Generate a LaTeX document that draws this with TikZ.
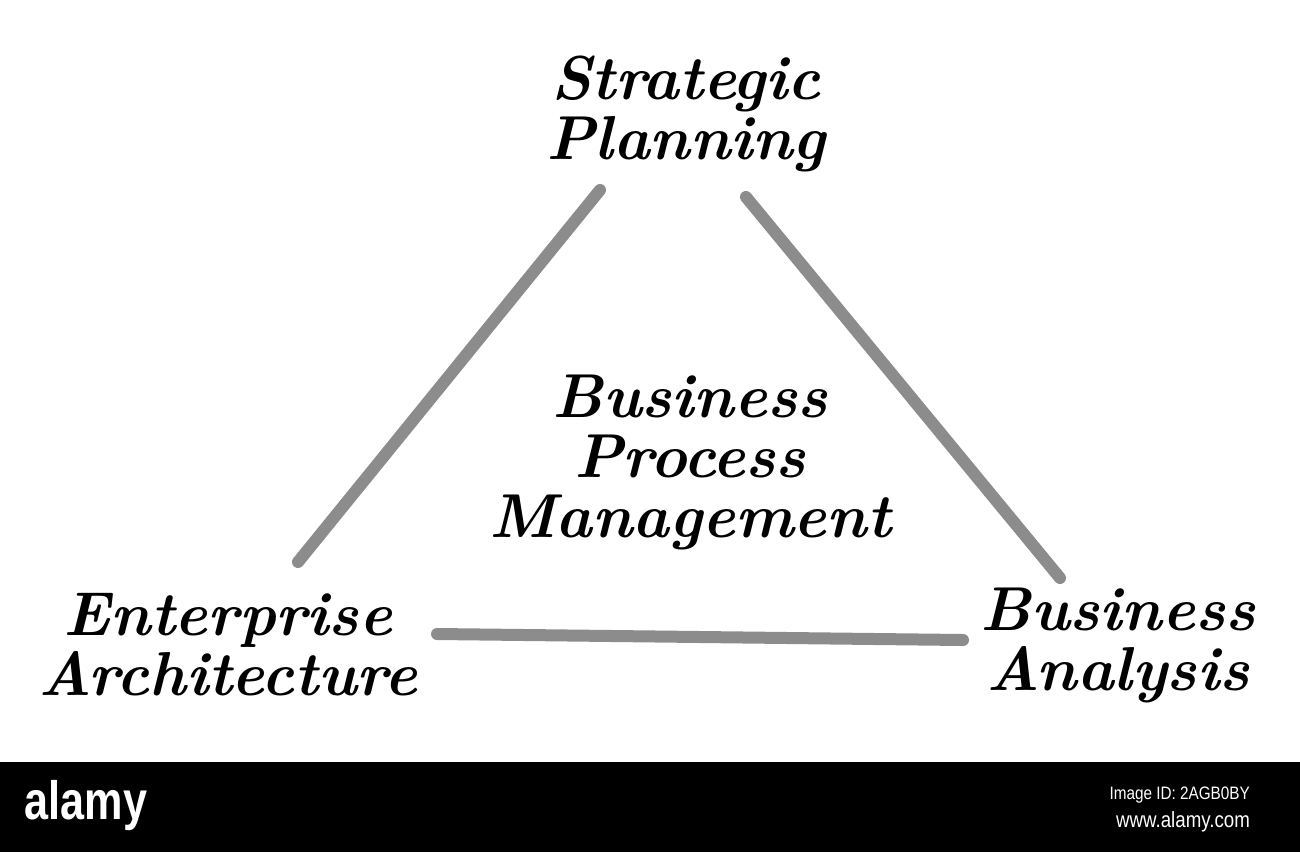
\documentclass[tikz,border=0pt]{standalone}
\usepackage{fontspec}
\newfontfamily\barfont{Liberation Sans}
\definecolor{linegray}{RGB}{140, 140, 140}
\usetikzlibrary{positioning, calc}

\begin{document}
\begin{tikzpicture}[x=1pt, y=-1pt,
    label/.style={align=center, inner sep=0pt, font=\fontsize{62}{60}\selectfont\bfseries\itshape},
    edge/.style={draw=linegray, line width=12pt, line cap=round}]
  \useasboundingbox (0,0) rectangle (1300,852);
  \fill[white] (0,0) rectangle (1300,762);
  \fill[black] (0,762) rectangle (1300,852);

  % the three corners and the middle
  \node[label] (sp) at (686,114) {Strategic\\Planning};
  \node[label] (bpm) at (690,462) {Business\\Process\\Management};
  \node[label] (ea) at (228,645) {Enterprise\\Architecture};
  \node[label] (ba) at (1118,645) {Business\\Analysis};

  % line ends
  \coordinate (sp-l) at (600,190);
  \coordinate (sp-r) at (746,197);
  \coordinate (ea-t) at (298,562);
  \coordinate (ea-r) at (437,634);
  \coordinate (ba-t) at (1060,578);
  \coordinate (ba-l) at (963,640);

  \draw[edge] (sp-l) -- (ea-t);
  \draw[edge] (sp-r) -- (ba-t);
  \draw[edge] (ea-r) -- (ba-l);

  % bottom bar
  \node[text=white, inner sep=0pt, xscale=0.8, font=\barfont\bfseries\fontsize{54}{54}\selectfont] (logo) at (86,806) {alamy};
  \node[text=white, inner sep=0pt, anchor=east, xscale=0.85, font=\barfont\fontsize{18}{18}\selectfont] (imgid) at (1250,795) {Image ID: 2AGB0BY};
  \node[text=white, inner sep=0pt, anchor=east, xscale=0.85, font=\barfont\fontsize{22}{22}\selectfont] (www) at (1250,822) {www.alamy.com};
\end{tikzpicture}
\end{document}
